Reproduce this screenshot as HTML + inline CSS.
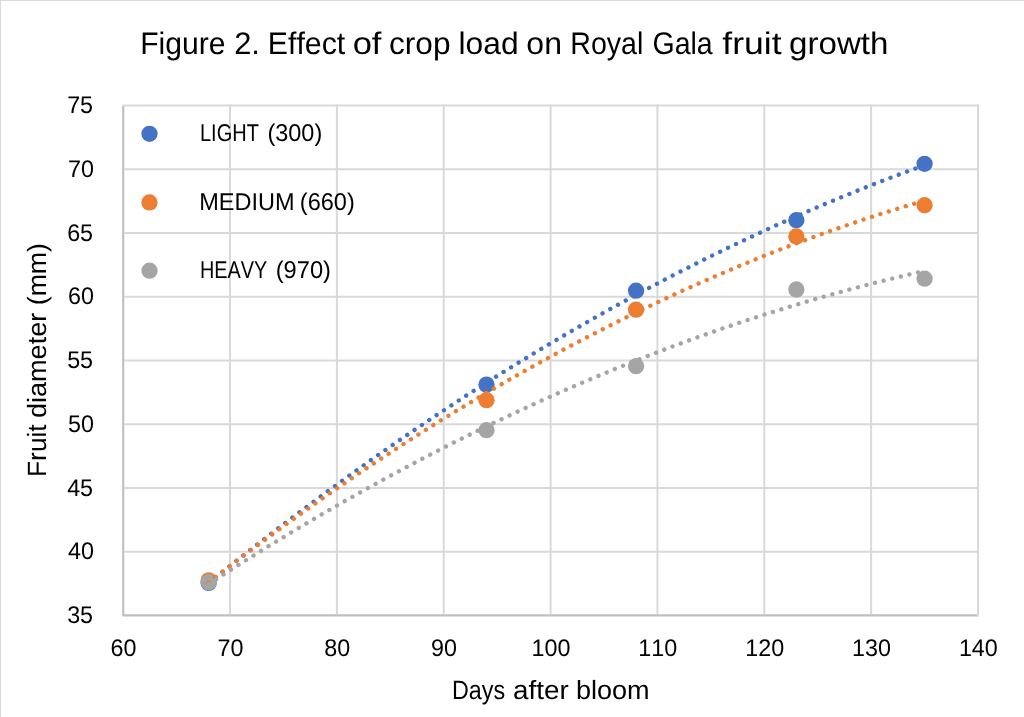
<!DOCTYPE html>
<html lang="en">
<head>
<meta charset="utf-8">
<title>Figure 2. Effect of crop load on Royal Gala fruit growth</title>
<style>
html,body{margin:0;padding:0;background:#fff;}
body{width:1024px;height:717px;overflow:hidden;}
svg{display:block;}
text{font-family:"Liberation Sans",sans-serif;fill:#000000;text-rendering:geometricPrecision;font-kerning:none;}
.lab{font-size:24.1px;}
.leg{font-size:24.2px;}
.ttl{font-size:31.2px;}
.at{font-size:26.4px;}
</style>
</head>
<body>
<svg width="1024" height="717" viewBox="0 0 1024 717">
<rect x="0" y="0" width="1024" height="717" fill="#ffffff"/>
<rect x="0" y="0" width="1024" height="1" fill="#D9D9D9"/>
<rect x="0" y="0" width="1" height="717" fill="#D9D9D9"/>
<polyline points="123.20,105.40 123.20,615.40 978.00,615.40" stroke="#BFBFBF" stroke-width="2.1" stroke-linejoin="round" fill="none"/>
<g stroke="#D9D9D9" stroke-width="2.0" fill="none">
<line x1="124.25" y1="551.65" x2="979.00" y2="551.65"/>
<line x1="124.25" y1="487.90" x2="979.00" y2="487.90"/>
<line x1="124.25" y1="424.15" x2="979.00" y2="424.15"/>
<line x1="124.25" y1="360.40" x2="979.00" y2="360.40"/>
<line x1="124.25" y1="296.65" x2="979.00" y2="296.65"/>
<line x1="124.25" y1="232.90" x2="979.00" y2="232.90"/>
<line x1="124.25" y1="169.15" x2="979.00" y2="169.15"/>
<line x1="122.15" y1="105.40" x2="979.00" y2="105.40"/>
<line x1="230.05" y1="104.40" x2="230.05" y2="614.35"/>
<line x1="336.90" y1="104.40" x2="336.90" y2="614.35"/>
<line x1="443.75" y1="104.40" x2="443.75" y2="614.35"/>
<line x1="550.60" y1="104.40" x2="550.60" y2="614.35"/>
<line x1="657.45" y1="104.40" x2="657.45" y2="614.35"/>
<line x1="764.30" y1="104.40" x2="764.30" y2="614.35"/>
<line x1="871.15" y1="104.40" x2="871.15" y2="614.35"/>
<line x1="978.00" y1="104.40" x2="978.00" y2="616.45"/>
</g>
<g fill="#4472C4">
<circle cx="208.68" cy="582.89" r="8.15"/>
<circle cx="486.49" cy="384.62" r="8.15"/>
<circle cx="636.08" cy="290.66" r="8.15"/>
<circle cx="796.36" cy="220.15" r="8.15"/>
<circle cx="924.58" cy="163.79" r="8.15"/>
</g>
<g fill="#ED7D31">
<circle cx="208.68" cy="580.34" r="8.15"/>
<circle cx="486.49" cy="400.18" r="8.15"/>
<circle cx="636.08" cy="309.65" r="8.15"/>
<circle cx="796.36" cy="236.47" r="8.15"/>
<circle cx="924.58" cy="205.23" r="8.15"/>
</g>
<g fill="#A5A5A5">
<circle cx="208.68" cy="582.25" r="8.15"/>
<circle cx="486.49" cy="430.14" r="8.15"/>
<circle cx="636.08" cy="366.14" r="8.15"/>
<circle cx="796.36" cy="289.51" r="8.15"/>
<circle cx="924.58" cy="278.67" r="8.15"/>
</g>
<polyline points="208.68,583.04 214.02,578.74 219.37,574.44 224.71,570.17 230.05,565.91 235.39,561.68 240.74,557.46 246.08,553.26 251.42,549.07 256.76,544.91 262.11,540.76 267.45,536.63 272.79,532.51 278.13,528.42 283.48,524.34 288.82,520.28 294.16,516.24 299.50,512.22 304.84,508.22 310.19,504.23 315.53,500.26 320.87,496.31 326.21,492.38 331.56,488.46 336.90,484.56 342.24,480.68 347.58,476.82 352.93,472.98 358.27,469.15 363.61,465.34 368.95,461.55 374.30,457.78 379.64,454.03 384.98,450.29 390.32,446.57 395.67,442.87 401.01,439.19 406.35,435.52 411.69,431.88 417.04,428.25 422.38,424.64 427.72,421.04 433.06,417.47 438.41,413.91 443.75,410.37 449.09,406.85 454.44,403.35 459.78,399.86 465.12,396.39 470.46,392.94 475.80,389.51 481.15,386.10 486.49,382.70 491.83,379.32 497.18,375.96 502.52,372.62 507.86,369.30 513.20,365.99 518.54,362.70 523.89,359.43 529.23,356.18 534.57,352.94 539.91,349.72 545.26,346.52 550.60,343.34 555.94,340.18 561.28,337.03 566.63,333.91 571.97,330.80 577.31,327.70 582.66,324.63 588.00,321.57 593.34,318.54 598.68,315.52 604.02,312.51 609.37,309.53 614.71,306.56 620.05,303.61 625.39,300.68 630.74,297.77 636.08,294.88 641.42,292.00 646.76,289.14 652.11,286.30 657.45,283.48 662.79,280.67 668.13,277.88 673.48,275.11 678.82,272.36 684.16,269.63 689.50,266.91 694.85,264.21 700.19,261.53 705.53,258.87 710.88,256.23 716.22,253.60 721.56,250.99 726.90,248.40 732.25,245.83 737.59,243.27 742.93,240.74 748.27,238.22 753.62,235.72 758.96,233.23 764.30,230.77 769.64,228.32 774.99,225.89 780.33,223.48 785.67,221.09 791.01,218.71 796.36,216.35 801.70,214.01 807.04,211.69 812.38,209.39 817.73,207.10 823.07,204.83 828.41,202.58 833.75,200.35 839.10,198.14 844.44,195.94 849.78,193.76 855.12,191.60 860.47,189.46 865.81,187.33 871.15,185.23 876.49,183.14 881.84,181.06 887.18,179.01 892.52,176.98 897.86,174.96 903.20,172.96 908.55,170.98 913.89,169.01 919.23,167.07 924.58,165.14" fill="none" stroke="#4472C4" stroke-width="4.4" stroke-linecap="round" stroke-dasharray="0.01 8.84"/>
<polyline points="208.68,582.36 214.02,578.22 219.37,574.11 224.71,570.01 230.05,565.93 235.39,561.87 240.74,557.83 246.08,553.81 251.42,549.80 256.76,545.82 262.11,541.86 267.45,537.91 272.79,533.99 278.13,530.09 283.48,526.20 288.82,522.33 294.16,518.49 299.50,514.66 304.84,510.85 310.19,507.06 315.53,503.29 320.87,499.54 326.21,495.81 331.56,492.10 336.90,488.41 342.24,484.74 347.58,481.09 352.93,477.45 358.27,473.84 363.61,470.24 368.95,466.67 374.30,463.11 379.64,459.57 384.98,456.06 390.32,452.56 395.67,449.08 401.01,445.62 406.35,442.18 411.69,438.76 417.04,435.36 422.38,431.98 427.72,428.61 433.06,425.27 438.41,421.95 443.75,418.64 449.09,415.36 454.44,412.09 459.78,408.85 465.12,405.62 470.46,402.41 475.80,399.23 481.15,396.06 486.49,392.91 491.83,389.78 497.18,386.67 502.52,383.58 507.86,380.50 513.20,377.45 518.54,374.42 523.89,371.41 529.23,368.41 534.57,365.44 539.91,362.48 545.26,359.54 550.60,356.63 555.94,353.73 561.28,350.85 566.63,347.99 571.97,345.15 577.31,342.34 582.66,339.53 588.00,336.75 593.34,333.99 598.68,331.25 604.02,328.53 609.37,325.82 614.71,323.14 620.05,320.47 625.39,317.83 630.74,315.20 636.08,312.60 641.42,310.01 646.76,307.44 652.11,304.89 657.45,302.36 662.79,299.85 668.13,297.36 673.48,294.89 678.82,292.44 684.16,290.01 689.50,287.59 694.85,285.20 700.19,282.83 705.53,280.47 710.88,278.14 716.22,275.82 721.56,273.52 726.90,271.25 732.25,268.99 737.59,266.75 742.93,264.53 748.27,262.33 753.62,260.15 758.96,257.99 764.30,255.85 769.64,253.73 774.99,251.62 780.33,249.54 785.67,247.47 791.01,245.43 796.36,243.40 801.70,241.40 807.04,239.41 812.38,237.44 817.73,235.50 823.07,233.57 828.41,231.66 833.75,229.77 839.10,227.90 844.44,226.05 849.78,224.22 855.12,222.40 860.47,220.61 865.81,218.84 871.15,217.08 876.49,215.35 881.84,213.63 887.18,211.94 892.52,210.26 897.86,208.60 903.20,206.96 908.55,205.35 913.89,203.75 919.23,202.17 924.58,200.61" fill="none" stroke="#ED7D31" stroke-width="4.4" stroke-linecap="round" stroke-dasharray="0.01 8.84"/>
<polyline points="208.68,584.07 214.02,580.60 219.37,577.15 224.71,573.72 230.05,570.31 235.39,566.92 240.74,563.54 246.08,560.17 251.42,556.83 256.76,553.50 262.11,550.19 267.45,546.89 272.79,543.62 278.13,540.36 283.48,537.11 288.82,533.89 294.16,530.68 299.50,527.48 304.84,524.31 310.19,521.15 315.53,518.01 320.87,514.88 326.21,511.77 331.56,508.68 336.90,505.61 342.24,502.55 347.58,499.51 352.93,496.49 358.27,493.48 363.61,490.49 368.95,487.52 374.30,484.57 379.64,481.63 384.98,478.71 390.32,475.80 395.67,472.92 401.01,470.05 406.35,467.19 411.69,464.35 417.04,461.54 422.38,458.73 427.72,455.95 433.06,453.18 438.41,450.43 443.75,447.69 449.09,444.97 454.44,442.27 459.78,439.59 465.12,436.92 470.46,434.27 475.80,431.64 481.15,429.02 486.49,426.42 491.83,423.84 497.18,421.28 502.52,418.73 507.86,416.20 513.20,413.68 518.54,411.18 523.89,408.70 529.23,406.24 534.57,403.79 539.91,401.36 545.26,398.95 550.60,396.56 555.94,394.18 561.28,391.82 566.63,389.47 571.97,387.14 577.31,384.83 582.66,382.54 588.00,380.26 593.34,378.00 598.68,375.76 604.02,373.53 609.37,371.32 614.71,369.13 620.05,366.96 625.39,364.80 630.74,362.66 636.08,360.53 641.42,358.43 646.76,356.33 652.11,354.26 657.45,352.20 662.79,350.17 668.13,348.14 673.48,346.14 678.82,344.15 684.16,342.18 689.50,340.22 694.85,338.28 700.19,336.36 705.53,334.46 710.88,332.57 716.22,330.70 721.56,328.85 726.90,327.01 732.25,325.19 737.59,323.39 742.93,321.61 748.27,319.84 753.62,318.09 758.96,316.35 764.30,314.64 769.64,312.94 774.99,311.25 780.33,309.59 785.67,307.94 791.01,306.30 796.36,304.69 801.70,303.09 807.04,301.51 812.38,299.94 817.73,298.40 823.07,296.86 828.41,295.35 833.75,293.85 839.10,292.37 844.44,290.91 849.78,289.47 855.12,288.04 860.47,286.62 865.81,285.23 871.15,283.85 876.49,282.49 881.84,281.15 887.18,279.82 892.52,278.51 897.86,277.21 903.20,275.94 908.55,274.68 913.89,273.44 919.23,272.21 924.58,271.00" fill="none" stroke="#A5A5A5" stroke-width="4.4" stroke-linecap="round" stroke-dasharray="0.01 8.84"/>
<circle cx="149.5" cy="133.85" r="8.15" fill="#4472C4"/>
<circle cx="149.5" cy="202.40" r="8.15" fill="#ED7D31"/>
<circle cx="149.5" cy="270.70" r="8.15" fill="#A5A5A5"/>
<text class="leg" y="141.35"><tspan x="199.96" textLength="58.90" lengthAdjust="spacingAndGlyphs">LIGHT</tspan> <tspan x="267.44" textLength="54.81" lengthAdjust="spacingAndGlyphs">(300)</tspan></text>
<text class="leg" y="209.80"><tspan x="199.17" textLength="95.36" lengthAdjust="spacingAndGlyphs">MEDIUM</tspan> <tspan x="299.84" textLength="54.92" lengthAdjust="spacingAndGlyphs">(660)</tspan></text>
<text class="leg" y="278.15"><tspan x="199.97" textLength="67.26" lengthAdjust="spacingAndGlyphs">HEAVY</tspan> <tspan x="275.73" textLength="55.23" lengthAdjust="spacingAndGlyphs">(970)</tspan></text>
<text class="lab" x="67.14" y="623.15" textLength="25.96" lengthAdjust="spacingAndGlyphs">35</text>
<text class="lab" x="67.99" y="559.40" textLength="25.96" lengthAdjust="spacingAndGlyphs">40</text>
<text class="lab" x="67.14" y="495.65" textLength="25.96" lengthAdjust="spacingAndGlyphs">45</text>
<text class="lab" x="67.99" y="431.90" textLength="25.96" lengthAdjust="spacingAndGlyphs">50</text>
<text class="lab" x="67.14" y="368.15" textLength="25.96" lengthAdjust="spacingAndGlyphs">55</text>
<text class="lab" x="67.99" y="304.40" textLength="25.96" lengthAdjust="spacingAndGlyphs">60</text>
<text class="lab" x="67.14" y="240.65" textLength="25.96" lengthAdjust="spacingAndGlyphs">65</text>
<text class="lab" x="67.99" y="176.90" textLength="25.96" lengthAdjust="spacingAndGlyphs">70</text>
<text class="lab" x="67.14" y="113.15" textLength="25.96" lengthAdjust="spacingAndGlyphs">75</text>
<text class="lab" x="110.57" y="656.2" textLength="25.96" lengthAdjust="spacingAndGlyphs">60</text>
<text class="lab" x="217.42" y="656.2" textLength="25.96" lengthAdjust="spacingAndGlyphs">70</text>
<text class="lab" x="324.27" y="656.2" textLength="25.96" lengthAdjust="spacingAndGlyphs">80</text>
<text class="lab" x="431.12" y="656.2" textLength="25.96" lengthAdjust="spacingAndGlyphs">90</text>
<text class="lab" x="531.48" y="656.2" textLength="38.94" lengthAdjust="spacingAndGlyphs">100</text>
<text class="lab" x="638.33" y="656.2" textLength="38.94" lengthAdjust="spacingAndGlyphs">110</text>
<text class="lab" x="745.18" y="656.2" textLength="38.94" lengthAdjust="spacingAndGlyphs">120</text>
<text class="lab" x="852.03" y="656.2" textLength="38.94" lengthAdjust="spacingAndGlyphs">130</text>
<text class="lab" x="958.88" y="656.2" textLength="38.94" lengthAdjust="spacingAndGlyphs">140</text>
<text class="ttl" y="53.7"><tspan x="140.13" textLength="85.31" lengthAdjust="spacingAndGlyphs">Figure</tspan> <tspan x="234.15" textLength="25.78" lengthAdjust="spacingAndGlyphs">2.</tspan> <tspan x="267.82" textLength="77.41" lengthAdjust="spacingAndGlyphs">Effect</tspan> <tspan x="352.65" textLength="28.80" lengthAdjust="spacingAndGlyphs">of</tspan> <tspan x="389.06" textLength="61.47" lengthAdjust="spacingAndGlyphs">crop</tspan> <tspan x="458.56" textLength="60.09" lengthAdjust="spacingAndGlyphs">load</tspan> <tspan x="526.36" textLength="35.62" lengthAdjust="spacingAndGlyphs">on</tspan> <tspan x="570.26" textLength="73.06" lengthAdjust="spacingAndGlyphs">Royal</tspan> <tspan x="652.47" textLength="60.23" lengthAdjust="spacingAndGlyphs">Gala</tspan> <tspan x="722.30" textLength="59.26" lengthAdjust="spacingAndGlyphs">fruit</tspan> <tspan x="789.11" textLength="99.34" lengthAdjust="spacingAndGlyphs">growth</tspan></text>
<text class="at" y="698.7"><tspan x="451.99" textLength="53.16" lengthAdjust="spacingAndGlyphs">Days</tspan> <tspan x="513.12" textLength="55.64" lengthAdjust="spacingAndGlyphs">after</tspan> <tspan x="575.96" textLength="73.62" lengthAdjust="spacingAndGlyphs">bloom</tspan></text>
<text class="at" transform="translate(45.6 0) rotate(-90)" y="0"><tspan x="-476.96" textLength="52.65" lengthAdjust="spacingAndGlyphs">Fruit</tspan> <tspan x="-418.04" textLength="105.29" lengthAdjust="spacingAndGlyphs">diameter</tspan> <tspan x="-305.25" textLength="62.21" lengthAdjust="spacingAndGlyphs">(mm)</tspan></text>
</svg>
</body>
</html>
